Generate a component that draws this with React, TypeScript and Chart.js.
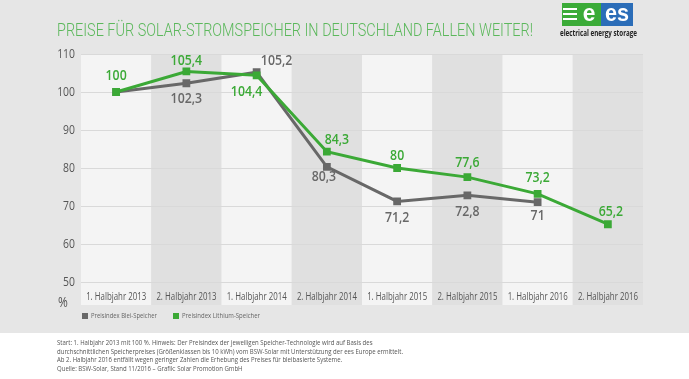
import React, { useEffect, useRef } from "react";
import { Chart, registerables } from "chart.js";

Chart.register(...registerables);

// ---------- data ----------
const categories = [
  "1. Halbjahr 2013",
  "2. Halbjahr 2013",
  "1. Halbjahr 2014",
  "2. Halbjahr 2014",
  "1. Halbjahr 2015",
  "2. Halbjahr 2015",
  "1. Halbjahr 2016",
  "2. Halbjahr 2016",
];
const bleiValues: (number | null)[] = [100, 102.3, 105.2, 80.3, 71.2, 72.8, 71, null];
const lithiumValues: (number | null)[] = [100, 105.4, 104.4, 84.3, 80, 77.6, 73.2, 65.2];
const yTicks = [50, 60, 70, 80, 90, 100, 110];
const seriesNames = ["Preisindex Blei-Speicher", "Preisindex Lithium-Speicher"];
const titleText = "PREISE FÜR SOLAR-STROMSPEICHER IN DEUTSCHLAND FALLEN WEITER!";
const unitLabel = "%";
const logoSub = "electrical energy storage";
const footnotes = [
  "Start: 1. Halbjahr 2013 mit 100 %. Hinweis: Der Preisindex der jeweiligen Speicher-Technologie wird auf Basis des",
  "durchschnittlichen Speicherpreises (Größenklassen bis 10 kWh) vom BSW-Solar mit Unterstützung der ees Europe ermittelt.",
  "Ab 2. Halbjahr 2016 entfällt wegen geringer Zahlen die Erhebung des Preises für bleibasierte Systeme.",
  "Quelle: BSW-Solar, Stand 11/2016 – Grafik: Solar Promotion GmbH",
];

// ---------- styling ----------
const GREEN = "#3ba936";
const GRAY = "#686868";
const FONT = "'Open Sans', sans-serif";
const W = 689;
const H = 379;

// label offsets (dx, dy) relative to each point; null = no label
const bleiLabelOffsets: ([number, number] | null)[] = [null, [0, 16], [20, -11], [-3, 10], [0, 17], [0, 17], [0, 14], null];
const lithiumLabelOffsets: ([number, number] | null)[] = [[0, -16], [0, -10], [-10, 17], [10, -12], [0, -12], [0, -14], [0, -16], [3, -12]];

function fmt(v: number) {
  return String(v).replace(".", ",");
}

function drawText(
  ctx: CanvasRenderingContext2D,
  text: string,
  x: number,
  y: number,
  font: string,
  color: string,
  align: CanvasTextAlign,
  sx = 1
) {
  ctx.save();
  ctx.font = font;
  ctx.fillStyle = color;
  ctx.textAlign = align;
  ctx.textBaseline = "middle";
  ctx.translate(x, y);
  ctx.scale(sx, 1);
  ctx.fillText(text, 0, 0);
  ctx.restore();
}

function measure(ctx: CanvasRenderingContext2D, text: string, font: string) {
  ctx.save();
  ctx.font = font;
  const m = ctx.measureText(text).width;
  ctx.restore();
  return m;
}

function drawFitted(
  ctx: CanvasRenderingContext2D,
  text: string,
  x: number,
  y: number,
  font: string,
  color: string,
  width: number
) {
  drawText(ctx, text, x, y, font, color, "left", width / measure(ctx, text, font));
}

const pagePlugin = {
  id: "page",
  beforeDraw(chart: any) {
    const { ctx, chartArea } = chart;
    const x = chart.scales.x;
    ctx.save();
    // page background
    ctx.fillStyle = "#e6e6e6";
    ctx.fillRect(0, 0, W, 333);
    ctx.fillStyle = "#ffffff";
    ctx.fillRect(0, 333, W, H - 333);
    // column bands
    const step = x.getPixelForValue(1) - x.getPixelForValue(0);
    categories.forEach((_, i) => {
      const c = x.getPixelForValue(i);
      ctx.fillStyle = i % 2 === 0 ? "#f4f4f4" : "#e0e0e0";
      ctx.fillRect(c - step / 2, chartArea.top, step, 305 - chartArea.top);
    });
    ctx.restore();

    // title
    drawFitted(ctx, titleText, 57, 31, "300 19px Roboto", "#5cb85c", 476);

    // logo
    ctx.save();
    ctx.fillStyle = "#3bab38";
    ctx.fillRect(562, 3, 39, 23);
    ctx.fillStyle = "#2b6db8";
    ctx.fillRect(601, 3, 32, 23);
    ctx.fillStyle = "#ffffff";
    [8, 13, 18].forEach((yy) => ctx.fillRect(563, yy, 14, 2));
    ctx.restore();
    drawText(ctx, "e", 589, 14, "bold 24px 'Liberation Sans', Arial", "#ffffff", "center", 0.95);
    drawText(ctx, "es", 617, 14, "bold 24px 'Liberation Sans', Arial", "#ffffff", "center", 0.9);
    drawFitted(ctx, logoSub, 560, 34, "bold 8px " + FONT, "#222222", 77);

    // footer
    const fnFont = "7px " + FONT;
    const sx = 346 / measure(ctx, footnotes[1], fnFont);
    footnotes.forEach((t, i) => {
      drawText(ctx, t, 57, 343 + i * 8.6, fnFont, "#555555", "left", sx);
    });
  },
  afterDraw(chart: any) {
    const { ctx } = chart;
    const xs = chart.scales.x;
    const ys = chart.scales.y;
    // x tick labels (condensed)
    const xFont = "11px " + FONT;
    const xsx = 60 / measure(ctx, categories[0], xFont);
    xs.ticks.forEach((_: any, i: number) => {
      drawText(ctx, xs.getLabelForValue(i), xs.getPixelForTick(i), 297, xFont, "#555555", "center", xsx);
    });
    // y tick labels (condensed)
    const yFont = "13px " + FONT;
    ys.ticks.forEach((t: any) => {
      drawText(ctx, String(t.value), 75, ys.getPixelForValue(t.value), yFont, "#555555", "right", 0.8);
    });
    // unit label
    drawText(ctx, unitLabel, 63, 303, "14px " + FONT, "#555555", "center", 0.85);
    // legend
    const items = [
      { name: seriesNames[0], color: GRAY, x: 82, w: 66 },
      { name: seriesNames[1], color: GREEN, x: 173, w: 78 },
    ];
    items.forEach((it) => {
      ctx.save();
      ctx.fillStyle = it.color;
      ctx.fillRect(it.x, 313, 6, 6);
      ctx.restore();
      drawFitted(ctx, it.name, it.x + 9, 316, "8px " + FONT, "#666666", it.w);
    });
  },
  afterDatasetsDraw(chart: any) {
    const { ctx } = chart;
    const sets = [
      { idx: 0, offsets: lithiumLabelOffsets, color: GREEN },
      { idx: 1, offsets: bleiLabelOffsets, color: GRAY },
    ];
    sets.forEach((s) => {
      const meta = chart.getDatasetMeta(s.idx);
      const data = chart.data.datasets[s.idx].data;
      meta.data.forEach((pt: any, i: number) => {
        const v = data[i];
        const off = s.offsets[i];
        if (v == null || !off) return;
        drawText(ctx, fmt(v), pt.x + off[0], pt.y + off[1], "600 14px " + FONT, s.color, "center", 0.88);
      });
    });
  },
};

export default function App() {
  const ref = useRef<HTMLCanvasElement>(null);
  useEffect(() => {
    if (!ref.current) return;
    const chart = new Chart(ref.current, {
      type: "line",
      data: {
        labels: categories,
        datasets: [
          {
            label: seriesNames[1],
            data: lithiumValues,
            borderColor: GREEN,
            backgroundColor: GREEN,
            pointBackgroundColor: GREEN,
            borderWidth: 3,
            pointStyle: "rect",
            pointRadius: 5.5,
            pointBorderWidth: 0,
            tension: 0,
            order: 1,
          },
          {
            label: seriesNames[0],
            data: bleiValues,
            borderColor: GRAY,
            backgroundColor: GRAY,
            pointBackgroundColor: GRAY,
            borderWidth: 3,
            pointStyle: "rect",
            pointRadius: 5.5,
            pointBorderWidth: 0,
            tension: 0,
            order: 2,
          },
        ],
      },
      options: {
        responsive: false,
        animation: false,
        devicePixelRatio: 1,
        layout: { padding: { left: 0, right: 46, top: 54, bottom: 67 } },
        plugins: { legend: { display: false }, tooltip: { enabled: false } },
        scales: {
          x: {
            offset: true,
            grid: { display: false, drawTicks: false },
            border: { display: false },
            ticks: { display: false, autoSkip: false, maxRotation: 0 },
            afterFit: (s: any) => {
              s.height = 30;
            },
          },
          y: {
            min: yTicks[0],
            max: yTicks[yTicks.length - 1],
            ticks: { display: false, stepSize: yTicks[1] - yTicks[0] },
            grid: { color: "#d9d9d9", drawTicks: false, lineWidth: 1 },
            border: { display: false },
            afterFit: (s: any) => {
              s.width = 81;
            },
          },
        },
      },
      plugins: [pagePlugin],
    });
    return () => chart.destroy();
  }, []);
  return (
    <div style={{ position: "fixed", left: 0, top: 0, width: W, height: H }}>
      <canvas ref={ref} width={W} height={H} style={{ width: W, height: H, display: "block" }} />
    </div>
  );
}
